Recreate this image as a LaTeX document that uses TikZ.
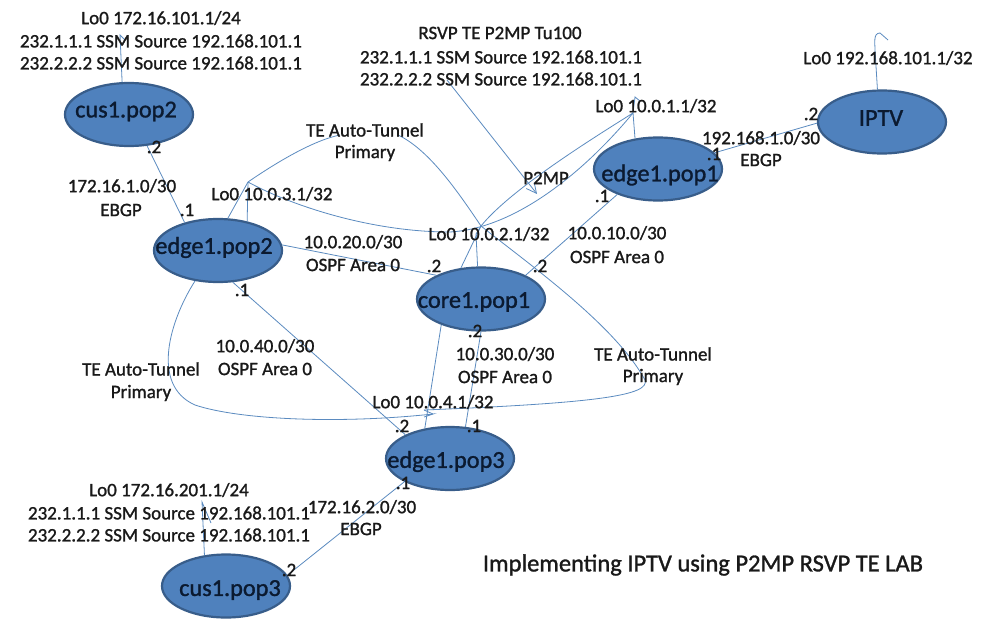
\documentclass[tikz,border=0pt]{standalone}
\usepackage{fontspec}
\setmainfont{Carlito}
\newfontfamily\semifont[FakeBold=1.2]{Carlito}
\usetikzlibrary{shapes.geometric,arrows.meta}
\definecolor{lnk}{HTML}{5B8BC0}
\definecolor{fillb}{HTML}{4F81BD}
\definecolor{edgeb}{HTML}{385D8A}
\definecolor{ink}{HTML}{0B1A30}
\tikzset{
 router/.style={ellipse,draw=edgeb,line width=2.2pt,fill=fillb,inner sep=0pt,minimum width=128pt,minimum height=63pt},
 rname/.style={font=\fontsize{24.3}{26}\semifont,text=ink},
 lab/.style={inner sep=0pt,font=\fontsize{19}{20}\semifont,text=black!90},
 wire/.style={draw=lnk,line width=0.8pt},
 tipped/.style={wire,-{Straight Barb[length=10pt,width=10pt,line width=0.8pt]}}
}
\begin{document}
\begin{tikzpicture}[x=1pt,y=-1pt]
\useasboundingbox[fill=white] (0,0) rectangle (987,621);
% routers
\node[router,label={[rname,xshift=-3pt,yshift=3pt]center:cus1.pop2}] (cusA) at (129,114.5) {};
\node[router,label={[rname,xshift=-4pt,yshift=3pt]center:edge1.pop2}] (edgeB) at (218,250.5) {};
\node[router,label={[rname,xshift=-7pt,yshift=-3pt]center:core1.pop1}] (core) at (481,299) {};
\node[router,label={[rname,xshift=-4pt,yshift=-3pt]center:edge1.pop3}] (edgeC) at (450,458.5) {};
\node[router,label={[rname,xshift=4pt,yshift=-4pt]center:cus1.pop3}] (cusC) at (226,586) {};
\node[router,label={[rname,xshift=2pt,yshift=-6pt]center:edge1.pop1}] (edgeA) at (658,169) {};
\node[router,label={[rname,xshift=-1pt,yshift=4pt]center:IPTV}] (iptv) at (882,122) {};
% free ends
\coordinate (apexB) at (248,182);
\coordinate (apexCore) at (481,226);
\coordinate (apexA) at (633,113);
\coordinate (apexC) at (424,410);
\coordinate (kneeC) at (433,414);
\coordinate (srcP) at (447,80);
\coordinate (tipP) at (537,194);
% links
\draw[wire] (cusA.-60) -- (edgeB.140);
\draw[wire] (edgeB.5) -- (core.152);
\draw[wire] (edgeB.-65) -- (edgeC.152);
\draw[wire] (core.28) -- (edgeA.212);
\draw[wire] (core.-90) -- (edgeC.64);
\draw[wire] (edgeC.207) -- (cusC.10);
\draw[wire] (edgeA.16) -- (iptv.181);
\draw[wire] (core.213) -- (edgeC.130);
% loopback stubs
\draw[wire] (cusA.102) -- (120,35) -- (125,40);
\draw[wire] (cusC.125) -- (202,502) -- (211,523);
\draw[wire] (iptv.98) -- (875,50) to[out=90,in=180] (880,33) -- (888,40);
\draw[wire] (edgeB.73) -- (apexB);
\draw[wire] (edgeB.45) -- (apexB);
\draw[wire] (core.96) -- (476,234) -- (apexCore);
\draw[wire] (core.123) -- (apexCore);
\draw[wire] (edgeA.127) -- (apexA) -- (635,97) -- (640,101);
% tunnels
\draw[wire] (apexB) .. controls (280,160) and (315,140) .. (340,135);
\draw[wire] (398,135) .. controls (430,150) and (460,195) .. (apexCore);
\draw[wire] (apexB) .. controls (290,205) and (370,232) .. (450,232) .. controls (520,228) and (590,165) .. (apexA);
\draw[wire] (apexCore) .. controls (510,190) and (590,140) .. (apexA);
\draw[wire] (apexCore) .. controls (530,265) and (615,325) .. (645,380) .. controls (650,395) and (600,403) .. (apexC);
\draw[wire] (edgeB.-127) .. controls (170,320) and (150,385) .. (195,405) .. controls (240,420) and (340,424) .. (kneeC) -- (424,417);
\draw[wire] (apexC) -- (kneeC);
\draw[tipped] (srcP) -- (tipP);
% labels
\node[lab] (t1) at (161,18) {Lo0 172.16.101.1/24};
\node[lab] (t2) at (161,41) {232.1.1.1 SSM Source 192.168.101.1};
\node[lab] (t3) at (161,63) {232.2.2.2 SSM Source 192.168.101.1};
\node[lab] (t4) at (500,33) {RSVP TE P2MP Tu100};
\node[lab] (t5) at (501,57) {232.1.1.1 SSM Source 192.168.101.1};
\node[lab] (t6) at (501,79) {232.2.2.2 SSM Source 192.168.101.1};
\node[lab] (t7) at (888,58) {Lo0 192.168.101.1/32};
\node[lab] (t8) at (656,106) {Lo0 10.0.1.1/32};
\node[lab] (t9) at (761,138) {192.168.1.0/30};
\node[lab] (t10) at (761,160) {EBGP};
\node[lab] (t11) at (811,114) {.2};
\node[lab] (t12) at (714,154) {.1};
\node[lab] (t13) at (602,196) {.1};
\node[lab] (t14) at (546,178) {P2MP};
\node[lab] (t15) at (365,130) {TE Auto-Tunnel};
\node[lab] (t16) at (365,153) {Primary};
\node[lab] (t17) at (272,194) {Lo0 10.0.3.1/32};
\node[lab] (t18) at (154,147) {.2};
\node[lab] (t19) at (122,186) {172.16.1.0/30};
\node[lab] (t20) at (121,210) {EBGP};
\node[lab] (t21) at (187,210) {.1};
\node[lab] (t22) at (489,234) {Lo0 10.0.2.1/32};
\node[lab] (t23) at (617,233) {10.0.10.0/30};
\node[lab] (t24) at (617,257) {OSPF Area 0};
\node[lab] (t25) at (353,242) {10.0.20.0/30};
\node[lab] (t26) at (353,265) {OSPF Area 0};
\node[lab] (t27) at (434,266) {.2};
\node[lab] (t28) at (540,266) {.2};
\node[lab] (t29) at (242,290) {.1};
\node[lab] (t30) at (265,346) {10.0.40.0/30};
\node[lab] (t31) at (265,369) {OSPF Area 0};
\node[lab] (t32) at (141,369) {TE Auto-Tunnel};
\node[lab] (t33) at (141,393) {Primary};
\node[lab] (t34) at (505,354) {10.0.30.0/30};
\node[lab] (t35) at (505,377) {OSPF Area 0};
\node[lab] (t36) at (653,354) {TE Auto-Tunnel};
\node[lab] (t37) at (653,377) {Primary};
\node[lab] (t38) at (475,331) {.2};
\node[lab] (t39) at (433,402) {Lo0 10.0.4.1/32};
\node[lab] (t40) at (402,426) {.2};
\node[lab] (t41) at (474,426) {.1};
\node[lab] (t42) at (403,483) {.1};
\node[lab] (t43) at (362,507) {172.16.2.0/30};
\node[lab] (t44) at (361,529) {EBGP};
\node[lab] (t45) at (169,490) {Lo0 172.16.201.1/24};
\node[lab] (t46) at (169,513) {232.1.1.1 SSM Source 192.168.101.1};
\node[lab] (t47) at (169,535) {232.2.2.2 SSM Source 192.168.101.1};
\node[lab] (t48) at (289,570) {.2};
\node[lab,font=\fontsize{24.5}{26}\semifont] (title) at (703,565) {Implementing IPTV using P2MP RSVP TE LAB};
\end{tikzpicture}
\end{document}
